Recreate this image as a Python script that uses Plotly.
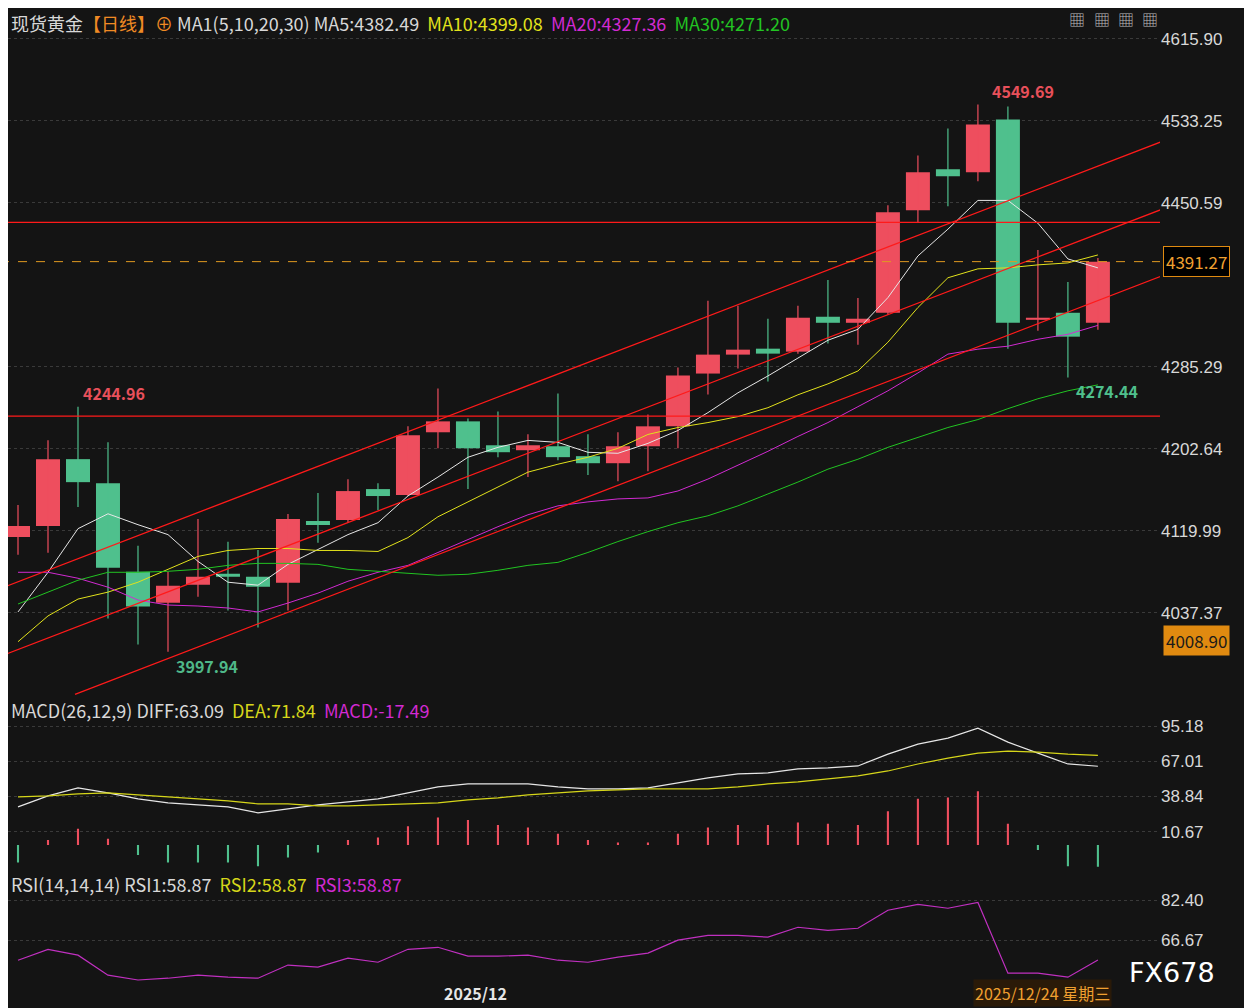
import plotly.graph_objects as go

# ---- 日K数据 (现货黄金) ----
opens = [4113.7, 4124.8, 4192.1, 4167.9, 4078.5, 4047.4, 4065.5, 4076.5, 4073.5, 4067.5,
         4129.8, 4130.8, 4161.9, 4155.9, 4219.2, 4230.2, 4206.1, 4201.1, 4205.1, 4195.1,
         4188.0, 4205.1, 4225.2, 4278.4, 4297.5, 4303.5, 4300.5, 4335.7, 4329.6, 4339.7,
         4443.1, 4484.3, 4481.3, 4534.5, 4332.6, 4339.7, 4329.6]
highs = [4145.8, 4211.1, 4244.96, 4209.1, 4104.7, 4078.5, 4131.8, 4108.7, 4100.6, 4136.8,
         4157.9, 4171.9, 4167.9, 4225.2, 4263.4, 4233.2, 4240.2, 4217.2, 4258.3, 4217.2,
         4219.2, 4237.2, 4284.4, 4351.7, 4346.7, 4333.7, 4346.7, 4372.8, 4354.7, 4448.2,
         4498.4, 4525.5, 4549.69, 4547.6, 4402.96, 4370.8, 4394.9]
lows = [4095.6, 4097.6, 4143.8, 4031.3, 4005.2, 3997.94, 4053.4, 4039.4, 4022.3, 4039.4,
        4107.7, 4127.8, 4140.8, 4154.9, 4203.1, 4161.9, 4194.1, 4174.0, 4191.0, 4176.0,
        4169.9, 4180.0, 4203.1, 4257.3, 4283.4, 4270.4, 4298.5, 4308.6, 4307.5, 4337.7,
        4430.1, 4447.1, 4472.3, 4303.5, 4321.6, 4274.44, 4322.6]
closes = [4124.8, 4192.1, 4168.9, 4082.5, 4043.4, 4064.5, 4073.5, 4073.5, 4063.5, 4131.8,
          4125.8, 4159.9, 4154.9, 4216.1, 4230.2, 4203.1, 4199.1, 4206.1, 4194.1, 4188.0,
          4205.1, 4225.2, 4276.4, 4297.5, 4302.5, 4298.5, 4334.7, 4329.6, 4333.7, 4441.1,
          4481.3, 4477.3, 4529.5, 4329.6, 4334.7, 4315.6, 4391.27]

ma5 = [4038, 4078, 4122, 4137, 4126, 4116, 4089, 4068, 4065, 4086, 4101, 4116, 4128, 4155,
       4174, 4194, 4204, 4211, 4209, 4199, 4198, 4208, 4221, 4239, 4259, 4276, 4294, 4312,
       4323, 4355, 4397, 4424, 4453, 4453, 4430, 4394, 4385]
ma10 = [4008, 4034, 4051, 4058, 4068, 4081, 4094, 4100, 4102, 4102, 4100, 4100, 4099, 4113,
        4134, 4149, 4164, 4179, 4187, 4194, 4203, 4217, 4224, 4229, 4235, 4244, 4257, 4268,
        4281, 4310, 4345, 4375, 4384, 4385, 4388, 4390, 4398]
ma20 = [4078, 4078, 4072, 4063, 4050, 4045, 4044, 4042, 4038, 4047, 4057, 4069, 4078, 4085,
        4098, 4111, 4124, 4136, 4145, 4149, 4152, 4153, 4160, 4172, 4186, 4200, 4215, 4229,
        4245, 4261, 4279, 4298, 4303, 4306, 4313, 4318, 4327]
ma30 = [4046, 4058, 4070, 4078, 4078, 4079, 4081, 4085, 4087, 4087, 4086, 4081, 4079, 4077,
        4075, 4076, 4080, 4085, 4088, 4098, 4109, 4119, 4128, 4135, 4145, 4157, 4169, 4182,
        4192, 4204, 4214, 4224, 4232, 4243, 4253, 4261, 4267]

diff = [30.5, 39.3, 45.7, 41.7, 36.9, 33.7, 32.1, 30.5, 25.8, 29.0, 32.1, 34.5, 36.9, 41.7,
        46.5, 48.9, 48.9, 48.9, 46.5, 44.9, 44.9, 45.7, 49.7, 53.7, 56.9, 57.7, 60.9, 61.7,
        63.3, 72.8, 80.8, 85.6, 93.6, 82.4, 73.6, 64.9, 63.09]
dea = [38.5, 39.3, 40.9, 41.7, 40.1, 38.5, 36.9, 35.3, 32.9, 32.9, 31.3, 31.3, 32.1, 32.9,
       33.7, 36.1, 37.7, 40.1, 41.7, 43.3, 44.1, 44.9, 44.9, 44.9, 46.5, 48.9, 50.5, 52.9,
       55.3, 59.3, 64.9, 69.6, 73.6, 75.2, 74.4, 72.8, 71.84]
macd_hist = [-14, 4, 13, 5, -8, -14, -14, -14, -17, -10, -6, 4, 6, 15, 22, 20, 16, 14, 9, 4,
             2, 2, 9, 14, 16, 16, 18, 17, 16, 27, 37, 38, 43, 17, -4, -17, -17.49]
rsi = [58.8, 63.1, 60.8, 52.9, 51.0, 51.7, 52.9, 52.1, 51.7, 56.9, 56.1, 59.6, 58.0, 63.1,
       63.9, 60.4, 60.4, 60.8, 58.8, 58.0, 60.0, 61.6, 66.7, 68.6, 68.6, 67.9, 71.8, 70.6,
       71.4, 78.5, 80.8, 79.3, 81.6, 53.7, 53.7, 52.1, 58.87]

# 通道线 (x为K线序号)
channel = [((-0.6, 4061.4), (38.13, 4512.4)),
           ((-0.6, 3993.1), (38.13, 4444.1)),
           ((1.9, 3955.0), (38.13, 4376.8))]
resist, support = 4430.94, 4235.39
last_price = 4391.27

price_ticks = [4615.90, 4533.25, 4450.59, 4285.29, 4202.64, 4119.99, 4037.37]
macd_ticks = [95.18, 67.01, 38.84, 10.67]
rsi_ticks = [82.40, 66.67]

UP, DOWN = "#ee4e5e", "#4fc08d"
BG = "#141414"
W, H = 1252, 1008
O = 8  # 页面默认边距
FW, FH = W - O, H - O
idx = list(range(len(closes)))


def px(x, y):
    return (x - O) / FW, 1 - (y - O) / FH


def ydom(top, bot):
    return [max(0, 1 - (bot - O) / FH), 1 - (top - O) / FH]


fig = go.Figure()
up_idx = [i for i in idx if closes[i] >= opens[i]]
dn_idx = [i for i in idx if closes[i] < opens[i]]
for sel, col in [(up_idx, UP), (dn_idx, DOWN)]:
    xs, ys = [], []
    for i in sel:
        xs += [i, i, None]
        ys += [lows[i], highs[i], None]
    fig.add_trace(go.Scatter(x=xs, y=ys, mode="lines", line=dict(color=col, width=1.2),
                             showlegend=False, xaxis="x", yaxis="y"))
    fig.add_trace(go.Bar(x=sel, base=[min(opens[i], closes[i]) for i in sel],
                         y=[max(abs(closes[i] - opens[i]), 1.2) for i in sel], width=0.8,
                         marker=dict(color=col, line_width=0), showlegend=False,
                         xaxis="x", yaxis="y"))
for vals, col in [(ma5, "#e6e6e6"), (ma10, "#e2e21c"), (ma20, "#d22ad2"), (ma30, "#22c422")]:
    fig.add_trace(go.Scatter(x=idx, y=vals, mode="lines", line=dict(color=col, width=1),
                             showlegend=False, xaxis="x", yaxis="y"))
for (x0, y0), (x1, y1) in channel:
    fig.add_trace(go.Scatter(x=[x0, x1], y=[y0, y1], mode="lines",
                             line=dict(color="#ff1a1a", width=1.3), showlegend=False))
for lvl in [resist, support]:
    fig.add_trace(go.Scatter(x=[-0.6, 38.13], y=[lvl, lvl], mode="lines",
                             line=dict(color="#ff1a1a", width=1.3), showlegend=False))
fig.add_trace(go.Scatter(x=[-0.6, 38.2], y=[last_price, last_price], mode="lines",
                         line=dict(color="#e09a20", width=1, dash="dash"), showlegend=False))

# MACD
fig.add_trace(go.Bar(x=idx, y=macd_hist, width=0.07,
                     marker=dict(color=[UP if v > 0 else DOWN for v in macd_hist], line_width=0),
                     showlegend=False, xaxis="x2", yaxis="y2"))
fig.add_trace(go.Scatter(x=idx, y=diff, mode="lines", line=dict(color="#e6e6e6", width=1.2),
                         showlegend=False, xaxis="x2", yaxis="y2"))
fig.add_trace(go.Scatter(x=idx, y=dea, mode="lines", line=dict(color="#d6d61a", width=1.2),
                         showlegend=False, xaxis="x2", yaxis="y2"))
# RSI
fig.add_trace(go.Scatter(x=idx, y=rsi, mode="lines", line=dict(color="#c030c0", width=1.2),
                         showlegend=False, xaxis="x3", yaxis="y3"))

xr = [-0.6 + O / 30, 38.07]
xdom = [0, (1160 - O) / FW]
ax_x = dict(range=xr, domain=xdom, showgrid=False, showticklabels=False, zeroline=False,
            fixedrange=True)
tickfont = dict(color="#d8d8d8", size=17, family="Liberation Sans, Arial")


def yax(rng, dom, ticks, anchor):
    return dict(range=rng, domain=dom, side="right", tickvals=ticks, anchor=anchor,
                ticktext=["%.2f" % t for t in ticks], tickfont=tickfont,
                showgrid=True, gridcolor="#3a3a3a", griddash="dot", zeroline=False,
                ticks="", showline=False)


fig.update_layout(
    width=FW, height=FH, margin=dict(l=0, r=0, t=0, b=0),
    paper_bgcolor=BG, plot_bgcolor=BG, showlegend=False, barmode="overlay",
    xaxis=ax_x, xaxis2=dict(ax_x, matches="x", anchor="y2"),
    xaxis3=dict(ax_x, matches="x", anchor="y3"),
    yaxis=yax([3953.0, 4620.9], ydom(30, 695), price_ticks, "x"),
    yaxis2=yax([-20.5, 100.8], ydom(718, 870), macd_ticks, "x2"),
    yaxis3=yax([39.96, 86.3], ydom(890, 1008), rsi_ticks, "x3"),
    font=dict(family="Noto Sans CJK SC, Liberation Sans", color="#d8d8d8"),
)

ann = []


def text(x, y, s, color="#d8d8d8", size=15, anchor="left", **kw):
    xp, yp = px(x, y)
    ann.append(dict(x=xp, y=yp, xref="paper", yref="paper", text=s, showarrow=False,
                    xanchor=anchor, yanchor="middle", font=dict(color=color, size=size), **kw))


text(9, 19, "现货黄金<span style='color:#f08a24'>【日线】⊕</span> "
     "MA1(5,10,20,30) MA5:4382.49  <span style='color:#e2e21c'>MA10:4399.08</span>  "
     "<span style='color:#d22ad2'>MA20:4327.36</span>  <span style='color:#22c422'>MA30:4271.20</span>",
     size=18)
text(9, 709, "MACD(26,12,9) DIFF:63.09  <span style='color:#d6d61a'>DEA:71.84</span>  "
     "<span style='color:#d22ad2'>MACD:-17.49</span>", size=18)
text(9, 883, "RSI(14,14,14) RSI1:58.87  <span style='color:#d6d61a'>RSI2:58.87</span>  "
     "<span style='color:#d22ad2'>RSI3:58.87</span>", size=18)
for xx in [1077, 1102, 1126, 1150]:
    text(xx, 15, "▦", color="#bbbbbb", size=16, anchor="center")
# 时间轴与水印
text(475, 993, "<b>2025/12</b>", color="#e6e6e6", size=16, anchor="center")
text(1042, 993, "2025/12/24 星期三", color="#f0a030", size=16, anchor="center",
     bgcolor="#2a1a08", borderpad=1)
text(1172, 972, "FX678", color="#ffffff", size=27, anchor="center")
for a in ann:
    if a["text"] == "FX678":
        a["font"]["family"] = "DejaVu Sans"

fig.update_layout(annotations=ann)
# 价格标注
fig.add_annotation(x=32.4, y=highs[32], text="<b>4549.69</b>", showarrow=False, xanchor="left",
                   yanchor="bottom", font=dict(color="#e8505b", size=16))
fig.add_annotation(x=2.1, y=highs[2], text="<b>4244.96</b>", showarrow=False, xanchor="left",
                   yanchor="bottom", font=dict(color="#e8505b", size=16))
fig.add_annotation(x=5.2, y=lows[5], text="<b>3997.94</b>", showarrow=False, xanchor="left",
                   yanchor="top", font=dict(color="#4fb889", size=16))
fig.add_annotation(x=35.2, y=lows[35], text="<b>4274.44</b>", showarrow=False, xanchor="left",
                   yanchor="top", font=dict(color="#4fc08d", size=16))
fig.add_annotation(x=38.13, y=resist, text="<b>4430.94</b>", showarrow=False, xanchor="right",
                   yanchor="bottom", font=dict(color="#ff2020", size=16))
fig.add_annotation(x=38.13, y=support, text="<b>4235.39</b>", showarrow=False, xanchor="right",
                   yanchor="middle", yshift=10, font=dict(color="#ff2020", size=16))
# 右侧价格框
fig.add_annotation(x=(1163 - O) / FW, xref="paper", y=last_price, yref="y", text="4391.27",
                   showarrow=False, xanchor="left", bgcolor="#000000", bordercolor="#e08a10",
                   borderwidth=1, borderpad=2, font=dict(color="#f0a030", size=17))
fig.add_annotation(x=(1163 - O) / FW, xref="paper", y=4008.90, yref="y", text="4008.90",
                   showarrow=False, xanchor="left", bgcolor="#e08a10", borderpad=2,
                   font=dict(color="#1a1a1a", size=17))

fig.write_html("out.html")
